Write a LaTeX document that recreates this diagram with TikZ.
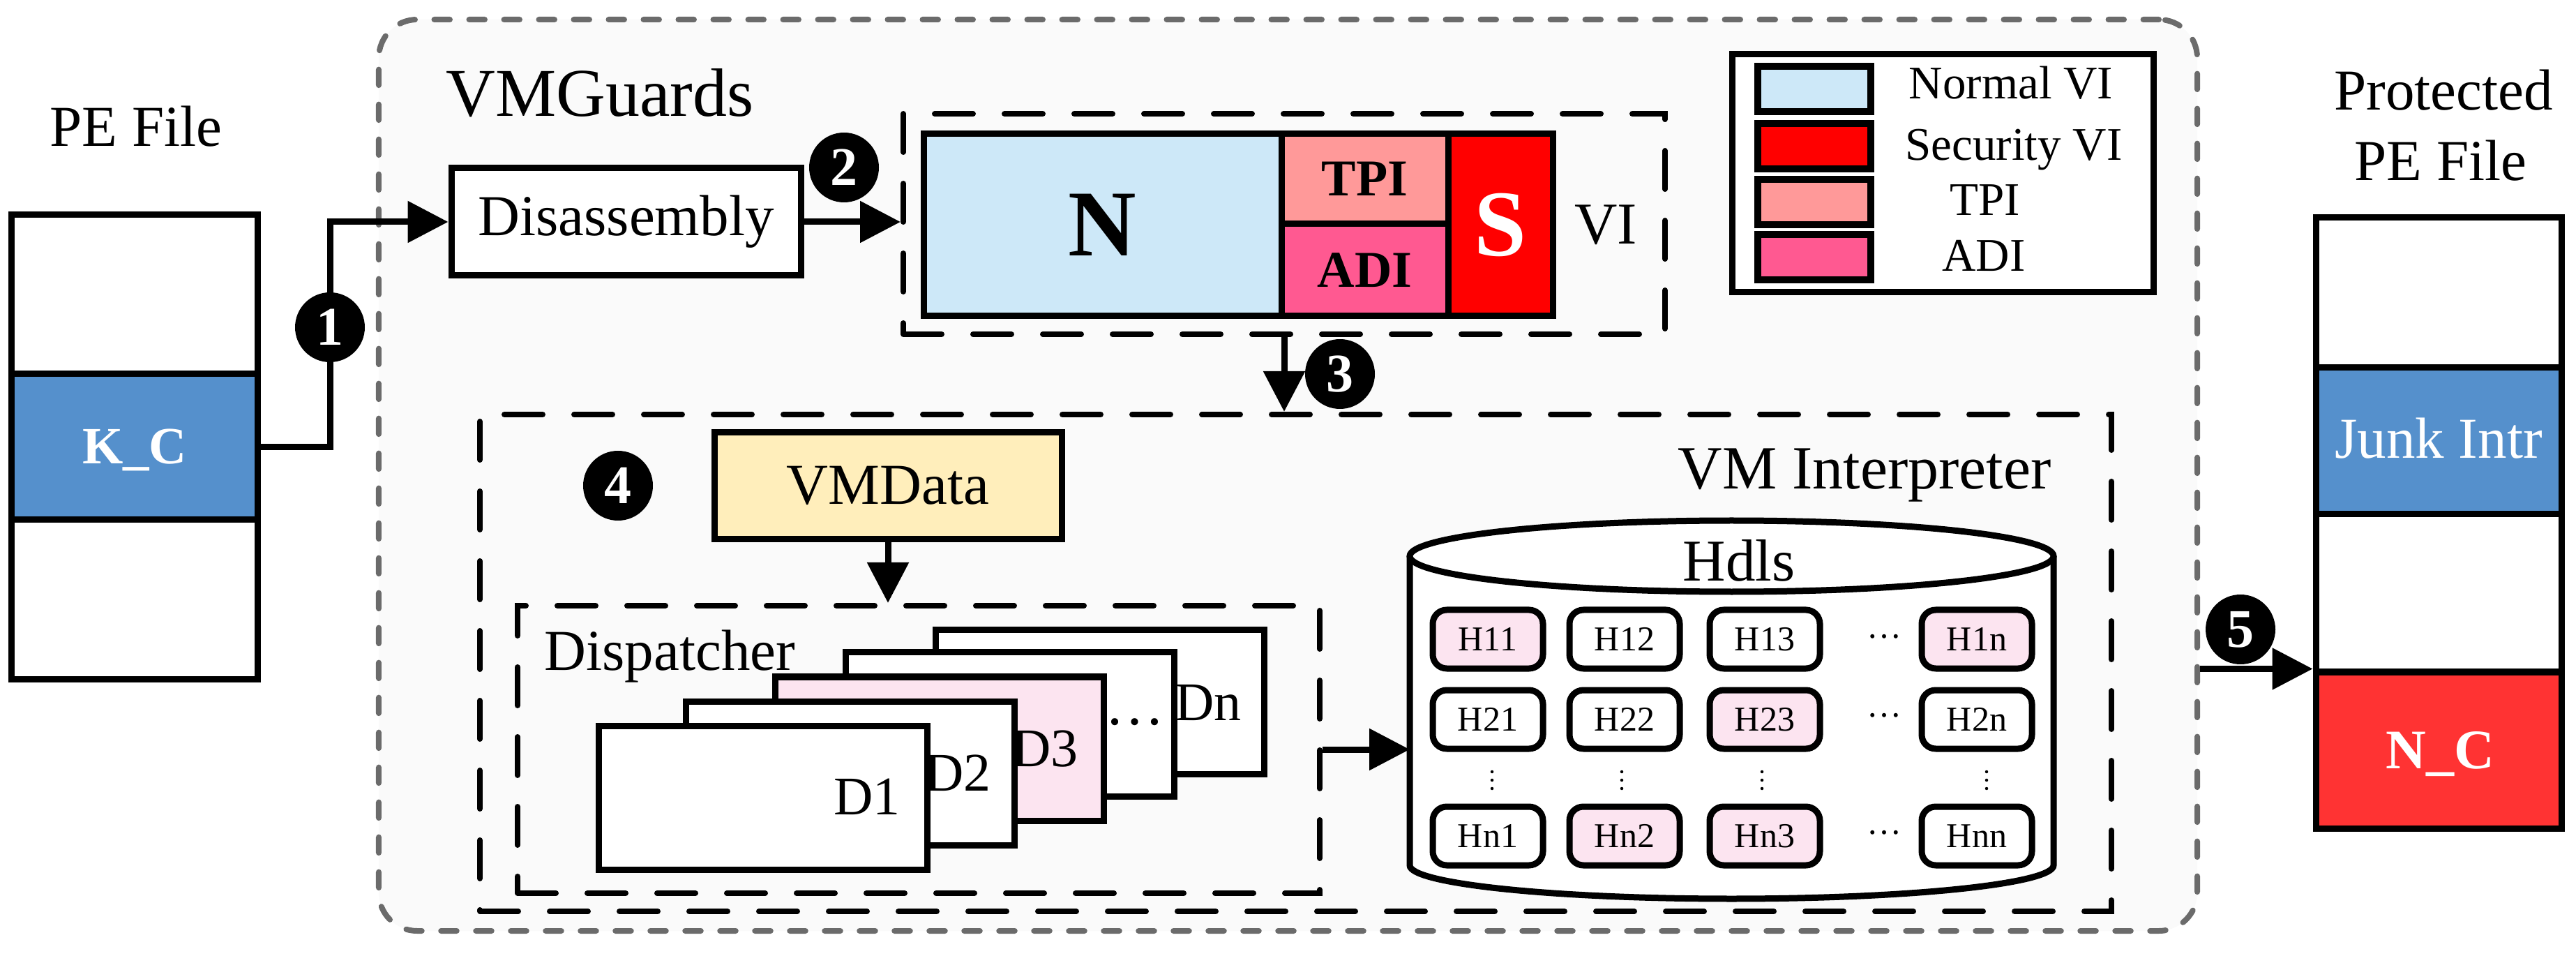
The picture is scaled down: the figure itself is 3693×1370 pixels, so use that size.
\documentclass[tikz,border=0pt]{standalone}
\usepackage{fontspec}
\setmainfont{Liberation Serif}
\usetikzlibrary{arrows.meta}
\definecolor{peblue}{HTML}{5590CC}
\definecolor{ncred}{HTML}{FF3333}
\definecolor{nblue}{HTML}{CDE8F8}
\definecolor{tpicol}{HTML}{FF9999}
\definecolor{adicol}{HTML}{FF5991}
\definecolor{scol}{HTML}{FF0000}
\definecolor{vmdcol}{HTML}{FFEEBB}
\definecolor{pinkc}{HTML}{FCE4F0}
\definecolor{outergray}{HTML}{6B6B6B}
\definecolor{outerfill}{HTML}{FAFAFA}
\tikzset{
  ln/.style={line width=1.8pt},
  box/.style={draw, ln, rectangle, inner sep=0pt},
  arr/.style={ln, -{Triangle[length=11.6pt,width=11.6pt]}},
  blk/.style={draw, rectangle, inner sep=0pt, line width=1.6pt, dash pattern=on 11pt off 9pt, line cap=round},
  outer/.style={draw=outergray, fill=outerfill, rectangle, inner sep=0pt, line width=1.6pt, dash pattern=on 4.5pt off 5.5pt, line cap=round, rounded corners=11pt},
  num/.style={circle, fill=black, minimum size=20pt, inner sep=0pt, text=white, font=\fontsize{15.6pt}{18pt}\selectfont\bfseries},
  f16/.style={font=\fontsize{16.6pt}{20pt}\selectfont},
  f17/.style={font=\fontsize{17pt}{20pt}\selectfont},
  fd/.style={font=\fontsize{15.6pt}{19pt}\selectfont},
  fvmg/.style={font=\fontsize{19.6pt}{23pt}\selectfont},
  fleg/.style={font=\fontsize{13.4pt}{16pt}\selectfont},
  sw/.style={box, line width=2pt, minimum width=32.4pt, minimum height=13pt},
  card/.style={box, fill=white, minimum width=94.2pt, minimum height=41.2pt},
  hd/.style={draw, ln, rectangle, rounded corners=4pt, inner sep=0pt, fill=white, minimum width=31.6pt, minimum height=16.8pt, font=\fontsize{10pt}{12pt}\selectfont},
  hdp/.style={hd, fill=pinkc},
  sec/.style={box, minimum width=70.4pt}
}
\begin{document}
\begin{tikzpicture}[x=0.2pt,y=-0.2pt]
\useasboundingbox (0,0) rectangle (3693,1370);

% outer VMGuards frame
\node[outer, minimum width=521.4pt, minimum height=261.2pt] (vmg) at (1846.5,681) {};
\node[fvmg, anchor=base west] (vmgl) at (622,167) {VMGuards};

% left PE file
\node[f16, anchor=base] (pel) at (195,210) {PE File};
\node[sec, fill=white, minimum height=45.6pt] (pe1) at (193,422) {};
\node[sec, fill=peblue, minimum height=41.8pt] (pe2) at (193,640.5) {};
\node[sec, fill=white, minimum height=45.6pt] (pe3) at (193,859) {};
\node[anchor=base, text=white, font=\fontsize{15pt}{18pt}\selectfont\bfseries] (kc) at (193,664) {K\_C};

% right protected PE file
\node[f16, anchor=base] (prl1) at (3503,158) {Protected};
\node[f16, anchor=base] (prl2) at (3499,259) {PE File};
\node[sec, fill=white, minimum height=43pt] (pr1) at (3496,419.5) {};
\node[sec, fill=peblue, minimum height=42pt] (pr2) at (3496,632) {};
\node[sec, fill=white, minimum height=45.2pt] (pr3) at (3496,850) {};
\node[sec, fill=ncred, minimum height=44.8pt] (pr4) at (3496,1075) {};
\node[f16, anchor=base, text=white] (junk) at (3496,656) {Junk Intr};
\node[anchor=base, text=white, font=\fontsize{16pt}{19pt}\selectfont\bfseries] (nc) at (3498,1101) {N\_C};

% disassembly
\node[box, fill=white, minimum width=100.2pt, minimum height=30.8pt, f16] (dis) at (897.5,318) {Disassembly};

% VI
\node[blk, minimum width=218.4pt, minimum height=63.2pt] (vibox) at (1841,321) {};
\node[box, fill=nblue, minimum width=102.6pt, minimum height=52.2pt, font=\fontsize{27pt}{30pt}\selectfont\bfseries] (vn) at (1580.5,322.5) {N};
\node[box, fill=tpicol, minimum width=47.8pt, minimum height=25.8pt, font=\fontsize{14.8pt}{17pt}\selectfont\bfseries] (vt) at (1956.5,256.5) {TPI};
\node[box, fill=adicol, minimum width=47.8pt, minimum height=26.4pt, font=\fontsize{14.8pt}{17pt}\selectfont\bfseries] (va) at (1956.5,387) {ADI};
\node[box, fill=scol, minimum width=30pt, minimum height=52.2pt, text=white, font=\fontsize{27pt}{30pt}\selectfont\bfseries] (vs) at (2151,322.5) {S};
\node[f17, anchor=base] (vil) at (2302,350) {VI};

% legend
\node[box, fill=white, minimum width=120.8pt, minimum height=68.2pt] (leg) at (2785,248.5) {};
\node[sw, fill=nblue] (sw1) at (2601,128) {};
\node[sw, fill=scol] (sw2) at (2601,210) {};
\node[sw, fill=tpicol] (sw3) at (2601,290) {};
\node[sw, fill=adicol] (sw4) at (2601,369) {};
\node[fleg, anchor=base] (lg1) at (2883,142) {Normal VI};
\node[fleg, anchor=base] (lg2) at (2887,230) {Security VI};
\node[fleg, anchor=base] (lg3) at (2846,309) {TPI};
\node[fleg, anchor=base] (lg4) at (2844,389) {ADI};

% VM interpreter
\node[blk, minimum width=467.8pt, minimum height=142.4pt] (vmi) at (1857.5,950) {};
\node[font=\fontsize{17.6pt}{21pt}\selectfont, anchor=base] (vmil) at (2673,701) {VM Interpreter};
\node[box, fill=vmdcol, minimum width=99.6pt, minimum height=30.4pt, f16] (vmd) at (1273,696) {VMData};

% dispatcher
\node[blk, minimum width=230pt, minimum height=82.4pt] (disp) at (1317,1074) {};
\node[f16, anchor=base west] (displ) at (763,961) {Dispatcher};
\node[card] (dn) at (1576.5,1006) {};
\node[fd, anchor=base east] (dnt) at (1797,1032) {Dn};
\node[card] (d4) at (1447.5,1038) {};
\node[f17] (d4t) at (1627,1035) {…};
\node[card, fill=pinkc] (d3) at (1346.5,1073) {};
\node[fd, anchor=base east] (d3t) at (1563,1098) {D3};
\node[card] (d2) at (1218.5,1108) {};
\node[fd, anchor=base east] (d2t) at (1438,1133) {D2};
\node[card] (d1) at (1093.5,1143) {};
\node[fd, anchor=base east] (d1t) at (1308,1167) {D1};

% handlers cylinder
\fill[white] (2021,797) -- (2021,1240) arc[start angle=180,end angle=360,x radius=92.3pt,y radius=9.6pt] -- (2944,797) arc[start angle=0,end angle=180,x radius=92.3pt,y radius=10.2pt] -- cycle;
\draw[ln] (2021,797) -- (2021,1240) arc[start angle=180,end angle=360,x radius=92.3pt,y radius=9.6pt] -- (2944,797);
\draw[ln] (2482.5,797) ellipse[x radius=92.3pt, y radius=10.2pt];
\coordinate (hdlsW) at (2021,1074);
\node[f17, anchor=base] (hdls) at (2493,833) {Hdls};

\node[hdp] (h11) at (2133,916) {H11};
\node[hd]  (h12) at (2329,916) {H12};
\node[hd]  (h13) at (2530,916) {H13};
\node[hdp] (h1n) at (2834,916) {H1n};
\node[hd]  (h21) at (2133,1031) {H21};
\node[hd]  (h22) at (2329,1031) {H22};
\node[hdp] (h23) at (2530,1031) {H23};
\node[hd]  (h2n) at (2834,1031) {H2n};
\node[hd]  (hn1) at (2133,1198) {Hn1};
\node[hdp] (hn2) at (2329,1198) {Hn2};
\node[hdp] (hn3) at (2530,1198) {Hn3};
\node[hd]  (hnn) at (2834,1198) {Hnn};
\foreach \yy/\nm in {912/r1,1025/r2,1193/rn}
  \node[font=\fontsize{10pt}{12pt}\selectfont] (dots\nm) at (2701,\yy) {…};
\foreach \xx in {2139,2325,2526,2848}
  \foreach \yy in {1106,1118,1130}
    \fill (\xx,\yy) circle[radius=0.45pt];

% connectors
\coordinate (k1) at (473,469);
\draw[arr] (pe2.east) -- (pe2.east -| k1) -- (dis.west -| k1) -- (dis.west);
\draw[arr] (dis.east) -- (dis.east -| vibox.west);
\draw[arr] (vibox.south) -- (vibox.south |- vmi.north);
\draw[arr] (vmd.south) -- (vmd.south |- disp.north);
\draw[arr] (disp.east) -- (hdlsW);
\draw[arr] (vmg.east |- pr4.north west) -- (pr4.north west);

% step numbers
\node[num] (c1) at (k1) {1};
\node[num] (c2) at (1210,240) {2};
\node[num] (c3) at (1921,536) {3};
\node[num] (c4) at (886,696) {4};
\node[num] (c5) at (3212,902) {5};
\end{tikzpicture}
\end{document}
